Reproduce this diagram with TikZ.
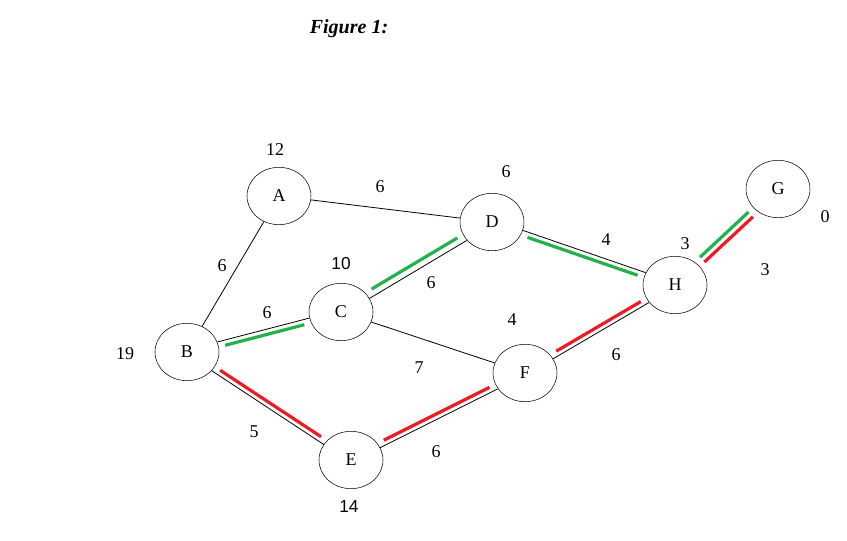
\documentclass[tikz,border=0pt]{standalone}
\usepackage{fontspec}
\setmainfont{Liberation Serif}
\setsansfont{Liberation Sans}
\usetikzlibrary{shapes.geometric}
\definecolor{pgreen}{RGB}{34,177,76}
\definecolor{pred}{RGB}{237,28,36}
\begin{document}
\begin{tikzpicture}[x=0.75pt,y=-0.75pt,
  vert/.style={draw,ellipse,minimum width=48pt,minimum height=43pt,inner sep=0pt,font=\fontsize{13.5}{15}\selectfont},
  lbl/.style={font=\fontsize{13.5}{15}\selectfont},
  slbl/.style={font=\sffamily\fontsize{13}{15}\selectfont},
  blk/.style={draw=black,line width=0.6pt},
  gline/.style={draw=pgreen,line width=2.4pt,shorten >=5pt,shorten <=5pt},
  rline/.style={draw=pred,line width=2.4pt,shorten >=5pt,shorten <=5pt}]
\useasboundingbox (0,0) rectangle (847,541);
\node[font=\bfseries\itshape\fontsize{15}{17}\selectfont] (title) at (349,29) {Figure 1:};
\node[vert] (A) at (279,196) {A};
\node[vert] (D) at (492,222) {D};
\node[vert] (G) at (778,189) {G};
\node[vert] (H) at (675,285) {H};
\node[vert] (C) at (341,312) {C};
\node[vert] (B) at (187,352) {B};
\node[vert] (F) at (525,373) {F};
\node[vert] (E) at (351,460) {E};
% single edges
\draw[blk] (A) -- (D);
\draw[blk] (A) -- (B);
\draw[blk] (C) -- (F);
% B-C
\draw[blk,transform canvas={shift={(-0.5,-2)}}] (B) -- (C);
\draw[gline,transform canvas={shift={(0.8,3)}}] (B) -- (C);
% C-D
\draw[blk,transform canvas={shift={(1.5,2.5)}}] (C) -- (D);
\draw[gline,transform canvas={shift={(-2,-3.5)}}] (C) -- (D);
% D-H
\draw[blk,transform canvas={shift={(0.7,-2)}}] (D) -- (H);
\draw[gline,transform canvas={shift={(-1,2.8)}}] (D) -- (H);
% H-G
\draw[gline,transform canvas={shift={(-2.2,-2.4)}}] (H) -- (G);
\draw[rline,transform canvas={shift={(2.2,2.4)}}] (H) -- (G);
% F-H
\draw[blk,transform canvas={shift={(1,1.7)}}] (F) -- (H);
\draw[rline,transform canvas={shift={(-1.5,-2.6)}}] (F) -- (H);
% E-F
\draw[blk,transform canvas={shift={(1,1.8)}}] (E) -- (F);
\draw[rline,transform canvas={shift={(-1.4,-2.7)}}] (E) -- (F);
% B-E
\draw[blk,transform canvas={shift={(-1.1,1.7)}}] (B) -- (E);
\draw[rline,transform canvas={shift={(1.6,-2.5)}}] (B) -- (E);
% node values
\node[lbl] (vA) at (275,150) {12};
\node[lbl] (vD) at (506,172) {6};
\node[lbl] (vG) at (825,217) {0};
\node[lbl] (vH) at (685,244) {3};
\node[slbl] (vC) at (341,264) {10};
\node[lbl] (vF) at (512,320) {4};
\node[lbl] (vB) at (125,354) {19};
\node[slbl] (vE) at (349,507) {14};
% edge weights
\node[lbl] (wAD) at (380,187) {6};
\node[lbl] (wAB) at (222,266) {6};
\node[lbl] (wBC) at (267,313) {6};
\node[lbl] (wCD) at (431,283) {6};
\node[lbl] (wDH) at (606,240) {4};
\node[lbl] (wHG) at (765,270) {3};
\node[lbl] (wCF) at (419,368) {7};
\node[lbl] (wFH) at (616,355) {6};
\node[lbl] (wBE) at (254,432) {5};
\node[lbl] (wEF) at (436,452) {6};
\end{tikzpicture}
\end{document}
